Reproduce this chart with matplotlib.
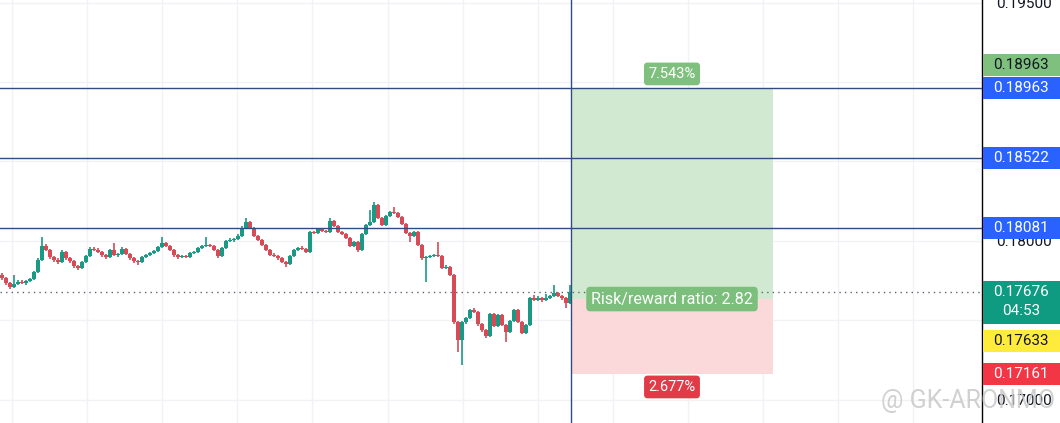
import numpy as np
import matplotlib
matplotlib.use("Agg")
import matplotlib.pyplot as plt
from matplotlib.patches import Rectangle
from matplotlib.transforms import IdentityTransform

plt.rcParams['font.family'] = ['Roboto', 'DejaVu Sans']

# =========================
# data
# =========================
first_open = 0.17784
closes = [
    0.17766, 0.17734, 0.17709, 0.17728, 0.17741, 0.17734, 0.17747, 0.17760, 0.17803, 0.17879,
    0.17967, 0.17942, 0.17898, 0.17879, 0.17866, 0.17929, 0.17891, 0.17873, 0.17841, 0.17829,
    0.17866, 0.17904, 0.17948, 0.17945, 0.17929, 0.17910, 0.17898, 0.17942, 0.17910, 0.17917,
    0.17948, 0.17917, 0.17891, 0.17873, 0.17866, 0.17898, 0.17910, 0.17923, 0.17936, 0.17961,
    0.17986, 0.17967, 0.17942, 0.17910, 0.17898, 0.17904, 0.17898, 0.17923, 0.17929, 0.17955,
    0.17967, 0.17974, 0.17967, 0.17942, 0.17904, 0.17955, 0.17999, 0.18005, 0.18011, 0.18030,
    0.18081, 0.18118, 0.18081, 0.18030, 0.18005, 0.17974, 0.17942, 0.17910, 0.17904, 0.17891,
    0.17866, 0.17854, 0.17904, 0.17942, 0.17955, 0.17948, 0.17929, 0.18055, 0.18049, 0.18074,
    0.18062, 0.18055, 0.18125, 0.18093, 0.18055, 0.18043, 0.18018, 0.17967, 0.17993, 0.17942,
    0.18043, 0.18099, 0.18118, 0.18226, 0.18144, 0.18099, 0.18156, 0.18181, 0.18175, 0.18150,
    0.18106, 0.18049, 0.18030, 0.18055, 0.17974, 0.17891, 0.17898, 0.17904, 0.17910, 0.17904,
    0.17829, 0.17835, 0.17784, 0.17488, 0.17375, 0.17488, 0.17513, 0.17564, 0.17551, 0.17475,
    0.17438, 0.17400, 0.17539, 0.17463, 0.17532, 0.17469, 0.17425, 0.17494, 0.17564, 0.17488,
    0.17419, 0.17469, 0.17640, 0.17627, 0.17640, 0.17627, 0.17640, 0.17652, 0.17671, 0.17652,
    0.17640, 0.17608, 0.17676,
]
highs = [
    0.17795, 0.17774, 0.17741, 0.17784, 0.17752, 0.17750, 0.17756, 0.17768, 0.17812, 0.17890,
    0.18024, 0.17980, 0.17950, 0.17906, 0.17890, 0.17942, 0.17936, 0.17900, 0.17880, 0.17850,
    0.17875, 0.17912, 0.17958, 0.17962, 0.17955, 0.17936, 0.17918, 0.17950, 0.17986, 0.17925,
    0.17958, 0.17955, 0.17925, 0.17898, 0.17880, 0.17906, 0.17918, 0.17932, 0.17945, 0.17970,
    0.18024, 0.17995, 0.17975, 0.17948, 0.17917, 0.17912, 0.17912, 0.17930, 0.17938, 0.17962,
    0.17976, 0.18024, 0.17982, 0.17974, 0.17948, 0.17962, 0.18006, 0.18015, 0.18020, 0.18040,
    0.18090, 0.18144, 0.18125, 0.18088, 0.18036, 0.18012, 0.17980, 0.17948, 0.17920, 0.17912,
    0.17898, 0.17872, 0.17912, 0.17950, 0.17962, 0.17964, 0.17955, 0.18062, 0.18064, 0.18082,
    0.18080, 0.18070, 0.18144, 0.18132, 0.18100, 0.18062, 0.18050, 0.18025, 0.18000, 0.18000,
    0.18050, 0.18106, 0.18194, 0.18244, 0.18232, 0.18152, 0.18164, 0.18190, 0.18213, 0.18182,
    0.18158, 0.18112, 0.18056, 0.18062, 0.18062, 0.17980, 0.17906, 0.17912, 0.17918, 0.17993,
    0.17910, 0.17845, 0.17842, 0.17790, 0.17495, 0.17495, 0.17522, 0.17572, 0.17575, 0.17558,
    0.17482, 0.17445, 0.17546, 0.17546, 0.17540, 0.17538, 0.17476, 0.17502, 0.17572, 0.17570,
    0.17495, 0.17476, 0.17648, 0.17660, 0.17652, 0.17648, 0.17665, 0.17660, 0.17721, 0.17680,
    0.17660, 0.17648, 0.17721,
]
lows = [
    0.17755, 0.17722, 0.17698, 0.17701, 0.17720, 0.17725, 0.17722, 0.17738, 0.17752, 0.17795,
    0.17870, 0.17933, 0.17885, 0.17866, 0.17855, 0.17858, 0.17880, 0.17862, 0.17830, 0.17818,
    0.17822, 0.17858, 0.17898, 0.17936, 0.17920, 0.17900, 0.17888, 0.17890, 0.17902, 0.17900,
    0.17910, 0.17908, 0.17882, 0.17860, 0.17850, 0.17860, 0.17890, 0.17904, 0.17915, 0.17930,
    0.17955, 0.17960, 0.17935, 0.17900, 0.17888, 0.17890, 0.17890, 0.17892, 0.17915, 0.17922,
    0.17948, 0.17960, 0.17958, 0.17934, 0.17891, 0.17898, 0.17948, 0.17990, 0.17995, 0.18004,
    0.18024, 0.18074, 0.18074, 0.18022, 0.17996, 0.17966, 0.17934, 0.17902, 0.17895, 0.17882,
    0.17858, 0.17835, 0.17846, 0.17898, 0.17935, 0.17940, 0.17920, 0.17922, 0.18040, 0.18042,
    0.18054, 0.18046, 0.18048, 0.18086, 0.18046, 0.18034, 0.18010, 0.17958, 0.17960, 0.17932,
    0.17935, 0.18036, 0.18090, 0.18110, 0.18136, 0.18090, 0.18092, 0.18150, 0.18168, 0.18142,
    0.18098, 0.18040, 0.17993, 0.18022, 0.17966, 0.17882, 0.17741, 0.17890, 0.17896, 0.17896,
    0.17820, 0.17820, 0.17775, 0.17478, 0.17299, 0.17217, 0.17478, 0.17505, 0.17542, 0.17466,
    0.17428, 0.17390, 0.17392, 0.17455, 0.17455, 0.17460, 0.17362, 0.17418, 0.17486, 0.17480,
    0.17410, 0.17412, 0.17462, 0.17618, 0.17618, 0.17615, 0.17620, 0.17632, 0.17645, 0.17644,
    0.17630, 0.17577, 0.17600,
]
opens = [first_open] + closes[:-1]

levels = [0.18963, 0.18522, 0.18081]
last_price = 0.17676
countdown = "04:53"
entry = 0.17633
target = 0.18963
stop = 0.17161
target_pct = "7.543%"
stop_pct = "2.677%"
rr_text = "Risk/reward ratio: 2.82"
grid_prices = [0.170, 0.175, 0.180, 0.185, 0.190, 0.195]
shown_ticks = [0.170, 0.180, 0.195]   # the others sit under the price labels

# colours
UP = "#1a9a85"
DOWN = "#d64b56"
LINE = "#2f4e7e"
GRID = "#f0f2f6"

W, H = 1060, 423
PLOT_W = 982

fig = plt.figure(figsize=(W / 100, H / 100), dpi=100)
ax = fig.add_axes([0, 0, PLOT_W / W, 1])
ax.set_xlim(-0.5, 245)
ax.set_ylim(0.16852, 0.19517)

# =========================
# grid
# =========================
for gx in np.arange(2.5, 245, 18.78):
    ax.axvline(gx, color=GRID, lw=1, zorder=0)
for gy in grid_prices:
    ax.axhline(gy, color=GRID, lw=1, zorder=0)

# =========================
# candles
# =========================
x = np.arange(len(closes))
o = np.array(opens)
c = np.array(closes)
hi = np.array(highs)
lo = np.array(lows)
cols = np.where(c >= o, UP, DOWN)
ax.vlines(x, lo, hi, colors=cols, lw=1.2, zorder=3)
body = np.maximum(np.abs(c - o), 0.00003)
ax.bar(x, body, bottom=np.minimum(o, c), width=0.8, color=cols, lw=0, zorder=4)

# current price dotted line
ax.axhline(last_price, color="#5d6470", lw=1, ls=(0, (1, 3)), zorder=2)

# =========================
# long position tool
# =========================
x0, x1 = 142.25, 192.75
ax.add_patch(Rectangle((x0, entry), x1 - x0, target - entry,
                       facecolor="#d2e9d1", edgecolor="none", zorder=1))
ax.add_patch(Rectangle((x0, stop), x1 - x0, entry - stop,
                       facecolor="#fbd9db", edgecolor="none", zorder=1))

for lv in levels:
    ax.axhline(lv, color=LINE, lw=1, zorder=5)
ax.axvline(x0, color=LINE, lw=1, zorder=5)

xm = (x0 + x1) / 2
ax.annotate(target_pct, (xm, target), xytext=(0, 14), textcoords="offset pixels",
            ha="center", va="center", color="white", fontsize=10.5, zorder=7,
            bbox=dict(boxstyle="round,pad=0.3,rounding_size=0.25", fc="#7fc07f", ec="none"))
ax.annotate(rr_text, (xm, entry), xytext=(0, 0), textcoords="offset pixels",
            ha="center", va="center", color="white", fontsize=11.5, zorder=7,
            bbox=dict(boxstyle="round,pad=0.3,rounding_size=0.25", fc="#7cbf7c", ec="none"))
ax.annotate(stop_pct, (xm, stop), xytext=(0, -13), textcoords="offset pixels",
            ha="center", va="center", color="white", fontsize=10.5, zorder=7,
            bbox=dict(boxstyle="round,pad=0.3,rounding_size=0.25", fc="#e23b48", ec="none"))

# =========================
# axes styling
# =========================
for s in ["left", "top", "bottom"]:
    ax.spines[s].set_visible(False)
ax.spines["right"].set_color("black")
ax.spines["right"].set_linewidth(1)
ax.set_xticks([])
ax.yaxis.tick_right()
ax.set_yticks(shown_ticks)
ax.set_yticklabels([f"{v:.5f}" for v in shown_ticks])
ax.tick_params(axis="y", length=0, pad=10, labelsize=11, labelcolor="#131722")

# =========================
# price scale labels
# =========================
def ypix(price):
    return ax.transData.transform((0, price))[1]


def price_label(price, text, bg, fg, shift=0, h=22, extra=None):
    yc = ypix(price) + shift
    top = yc + h / 2
    bottom = yc - h / 2 - (21 if extra else 0)
    fig.add_artist(Rectangle((PLOT_W + 1, bottom), W - PLOT_W - 1, top - bottom,
                             facecolor=bg, edgecolor="none", transform=IdentityTransform(),
                             zorder=10))
    fig.text(1021, yc, text, transform=IdentityTransform(), ha="center", va="center",
             fontsize=11, color=fg, zorder=11)
    if extra:
        fig.text(1021, yc - 19, extra, transform=IdentityTransform(), ha="center",
                 va="center", fontsize=11, color=fg, zorder=11)


price_label(target, f"{target:.5f}", "#7fc07f", "#131722", shift=22.5)
for lv in levels:
    price_label(lv, f"{lv:.5f}", "#2962ff", "white")
price_label(last_price, f"{last_price:.5f}", "#0f9a82", "white", extra=countdown)
price_label(entry, f"{entry:.5f}", "#ffeb3b", "#131722", shift=-42)
price_label(stop, f"{stop:.5f}", "#f23645", "white")

# watermark
fig.text(968, 22, "@ GK-ARONMO", transform=IdentityTransform(), ha="center", va="center",
         fontsize=18, color="#c9c9c9", alpha=0.85, zorder=12)

fig.savefig("out.png", dpi=100)
